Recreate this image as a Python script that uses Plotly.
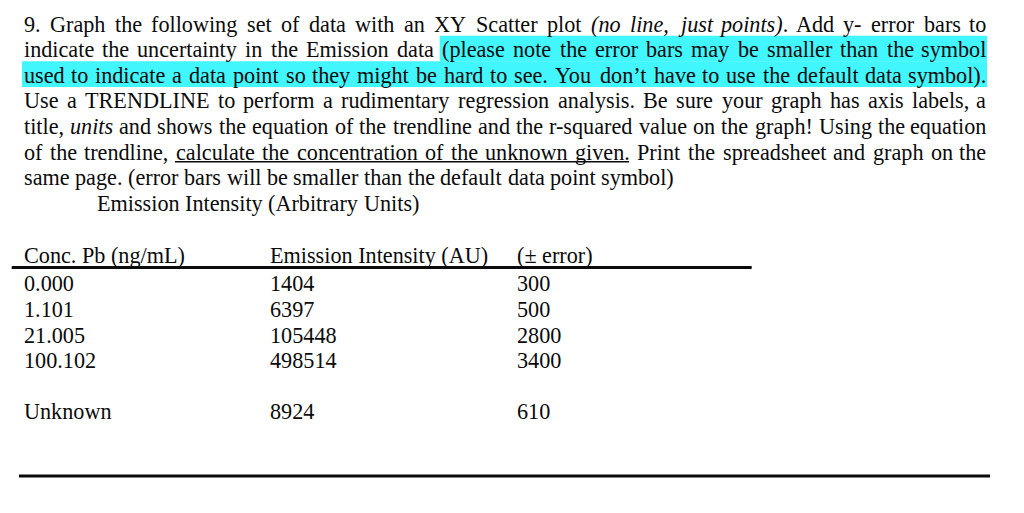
import re
import plotly.graph_objects as go

# ---------------- data (text content of the page) ----------------
paragraph_lines = [
    "9. Graph the following set of data with an XY Scatter plot <i>(no</i> <i>line,</i> <i>just</i> <i>points)</i>. Add y- error bars to",
    "indicate the uncertainty in the Emission data (please note the error bars may be smaller than the symbol",
    "used to indicate a data point so they might be hard to see. You don\u2019t have to use the default data symbol).",
    "Use a TRENDLINE to perform a rudimentary regression analysis. Be sure your graph has axis labels, a",
    "title, <i>units</i> and shows the equation of the trendline and the r-squared value on the graph! Using the equation",
    "of the trendline, calculate the concentration of the unknown given. Print the spreadsheet and graph on the",
    "same page. (error bars will be smaller than the default data point symbol)",
    "Emission Intensity (Arbitrary Units)",
]
justified = [True, True, True, True, True, True, False, False]
highlight_spans = [(1, "(please"), (2, None)]
underline_span = (5, "calculate", "given.")

col_headers = ["Conc. Pb (ng/mL)", "Emission Intensity (AU)", "(\u00b1 error)"]
conc = ["0.000", "1.101", "21.005", "100.102"]
emission = [1404, 6397, 105448, 498514]
error = [300, 500, 2800, 3400]
unknown_label = "Unknown"
unknown_emission = 8924
unknown_error = 610

# ---------------- style / layout ----------------
FONT = "Liberation Serif"
SIZE = 22.2
INK = "#0b0b0b"
CYAN = "#42f6fd"
LEFT = 22.7
RIGHT = 986.5
INDENT = 96
BASE0 = 31.0
LEAD = 25.55
DESC = 0.216 * SIZE + 2.0
COL_X = [22.7, 269.3, 515.7]
HEAD_BASE = 262.0
ROW_BASE0 = 290.5
ROW_LEAD = 25.6
UNK_BASE = 418.0

# Times metrics (1/1000 em)
_rc = "ABCDEFGHIJKLMNOPQRSTUVWXYZabcdefghijklmnopqrstuvwxyz0123456789 .,()-!/\u2019\u00b1:;'"
_rw = [722, 667, 667, 722, 611, 556, 722, 722, 333, 389, 722, 611, 889, 722, 722, 556, 722, 667, 556, 611, 722, 722, 944, 722, 722, 611,
       444, 500, 444, 500, 444, 333, 500, 500, 278, 278, 500, 278, 778, 500, 500, 500, 500, 333, 389, 278, 500, 500, 722, 500, 500, 444,
       500, 500, 500, 500, 500, 500, 500, 500, 500, 500, 250, 250, 250, 333, 333, 333, 333, 278, 333, 549, 278, 278, 180]
ROMAN = dict(zip(_rc, _rw))
_ic = "abcdefghijklmnopqrstuvwxyz .,()"
_iw = [500, 500, 444, 500, 444, 278, 500, 500, 278, 278, 444, 278, 722, 500, 500, 500, 500, 389, 389, 278, 500, 444, 667, 444, 444, 389,
       250, 250, 250, 333, 333]
ITALIC = dict(zip(_ic, _iw))


def text_width(word):
    italic = False
    total = 0
    for tok in re.split(r"(</?i>)", word):
        if tok == "<i>":
            italic = True
        elif tok == "</i>":
            italic = False
        else:
            table = ITALIC if italic else ROMAN
            for ch in tok:
                total += table.get(ch, ROMAN.get(ch, 500))
    return total * SIZE / 1000.0


def plain(word):
    return re.sub(r"</?i>", "", word)


annotations = []
shapes = []


def add_text(x, base, text, anchor="left"):
    annotations.append(dict(
        x=x, y=base + DESC, xref="x", yref="y", text=text, showarrow=False,
        xanchor=anchor, yanchor="bottom", borderpad=0,
        font=dict(family=FONT, size=SIZE, color=INK),
    ))


word_pos = {}
for i, line in enumerate(paragraph_lines):
    base = BASE0 + LEAD * i
    x0 = INDENT if i == len(paragraph_lines) - 1 else LEFT
    words = line.split(" ")
    widths = [text_width(w) for w in words]
    if justified[i]:
        gap = (RIGHT - x0 - sum(widths)) / (len(words) - 1)
    else:
        gap = ROMAN[" "] * SIZE / 1000.0
    x = x0
    pos = []
    for j, (w, wd) in enumerate(zip(words, widths)):
        pos.append((plain(w), x, wd))
        if justified[i] and j == len(words) - 1:
            add_text(RIGHT, base, w, "right")
        else:
            add_text(x, base, w)
        x += wd + gap
    word_pos[i] = pos

# highlight bands
for li, start_word in highlight_spans:
    base = BASE0 + LEAD * li
    if start_word is None:
        xs = LEFT - 0.7
    else:
        xs = [p[1] for p in word_pos[li] if p[0] == start_word][0] - 1.5
    shapes.append(dict(type="rect", xref="x", yref="y", x0=xs, x1=RIGHT + 0.5,
                       y0=base - 20.8, y1=base + 5.0, fillcolor=CYAN,
                       line=dict(width=0), layer="below"))

# underline
li, w_from, w_to = underline_span
base = BASE0 + LEAD * li
ux0 = [p[1] for p in word_pos[li] if p[0] == w_from][0]
ux1 = [p[1] + p[2] for p in word_pos[li] if p[0] == w_to][0]
shapes.append(dict(type="line", xref="x", yref="y", x0=ux0, x1=ux1,
                   y0=base + 3.0, y1=base + 3.0, line=dict(color=INK, width=1.3)))

# table header
for cx, h in zip(COL_X, col_headers):
    add_text(cx, HEAD_BASE, h)
shapes.append(dict(type="line", xref="x", yref="y", x0=11.7, x1=751.7,
                   y0=267.6, y1=267.6, line=dict(color=INK, width=3)))

# table rows
for k, (c, e, err) in enumerate(zip(conc, emission, error)):
    base = ROW_BASE0 + ROW_LEAD * k
    add_text(COL_X[0], base, c)
    add_text(COL_X[1], base, str(e))
    add_text(COL_X[2], base, str(err))

add_text(COL_X[0], UNK_BASE, unknown_label)
add_text(COL_X[1], UNK_BASE, str(unknown_emission))
add_text(COL_X[2], UNK_BASE, str(unknown_error))

shapes.append(dict(type="line", xref="x", yref="y", x0=19, x1=990,
                   y0=476.0, y1=476.0, line=dict(color=INK, width=3)))

fig = go.Figure()
fig.update_layout(
    width=1024, height=513,
    margin=dict(l=0, r=0, t=0, b=0),
    paper_bgcolor="white", plot_bgcolor="white",
    xaxis=dict(range=[0, 1024], visible=False, fixedrange=True),
    yaxis=dict(range=[513, 0], visible=False, fixedrange=True),
    annotations=annotations, shapes=shapes, showlegend=False,
)
fig.write_html("out.html", config={"displayModeBar": False},
               post_script="document.body.style.margin='0';document.body.style.padding='0';")
